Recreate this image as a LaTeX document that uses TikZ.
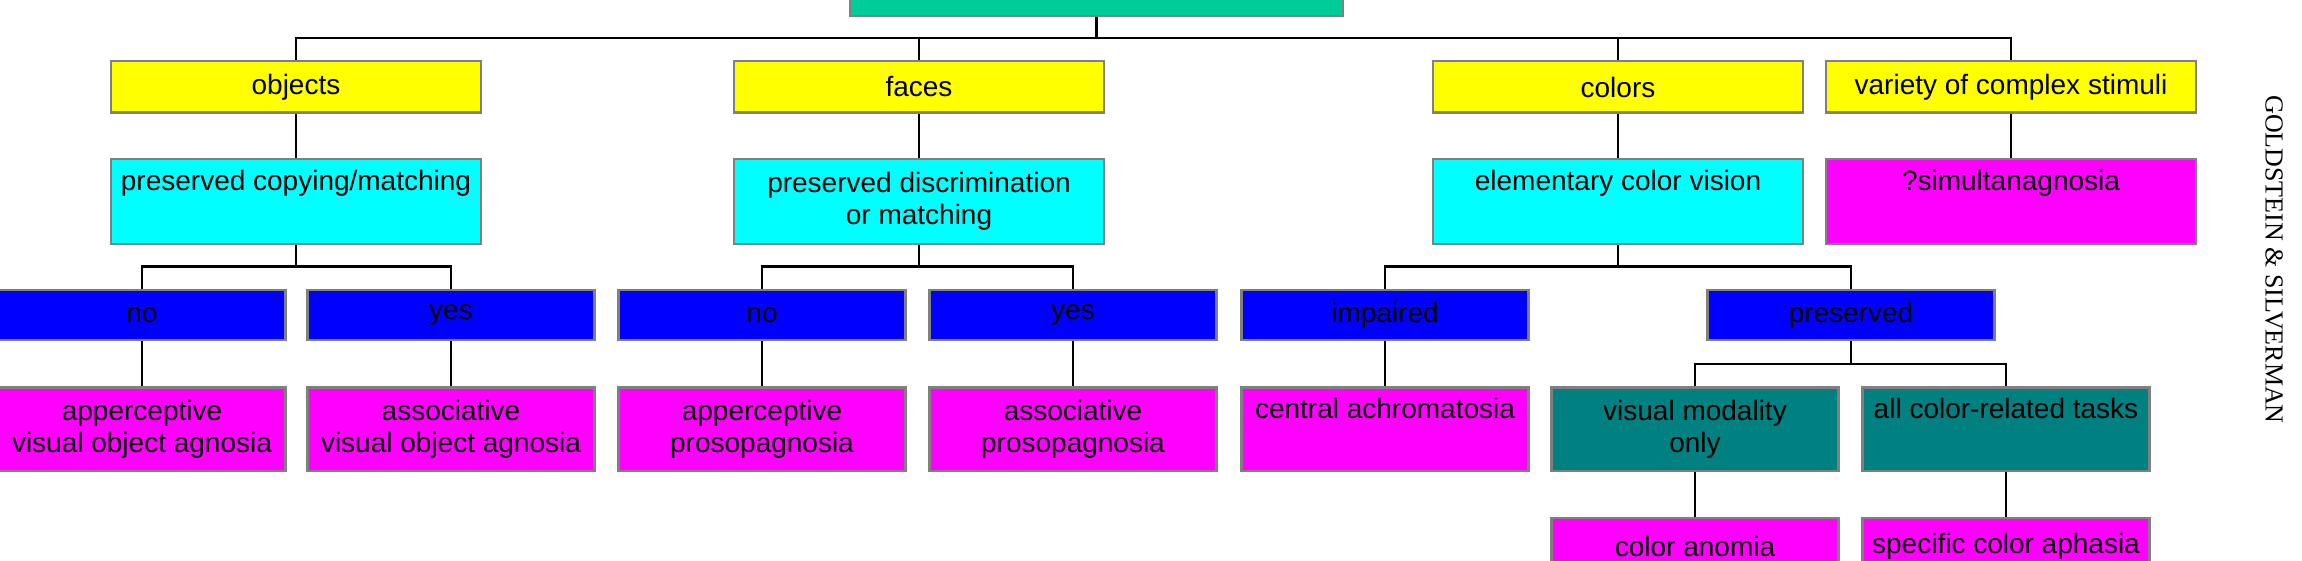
\documentclass[tikz,border=0pt]{standalone}
\usepackage{fontspec}
\setmainfont{Liberation Sans}
\newfontfamily\myserif{Liberation Serif}
\definecolor{rootc}{RGB}{0,204,153}
\definecolor{tealc}{RGB}{0,128,128}
\definecolor{bordc}{RGB}{128,128,128}
\definecolor{yelc}{RGB}{255,255,0}
\definecolor{cyac}{RGB}{0,255,255}
\definecolor{magc}{RGB}{255,0,255}
\definecolor{bluc}{RGB}{0,0,255}
\begin{document}
\begin{tikzpicture}[x=1pt,y=-1pt,
  box/.style={draw=bordc,line width=2.5pt,inner sep=0pt,align=center,
    font=\fontsize{28}{32}\selectfont},
  lvA/.style={box,fill=yelc,minimum width=370pt,minimum height=51.5pt},
  lvB/.style={box,minimum width=370pt,minimum height=85pt},
  lvC/.style={box,fill=bluc,minimum width=287pt,minimum height=50pt},
  lvD/.style={box,minimum width=287pt,minimum height=83.5pt},
  conn/.style={line width=2.8pt}]
\useasboundingbox (0,0) rectangle (2302,561);
\clip (0,0) rectangle (2302,561);
\coordinate (busA) at (0,38);
\coordinate (busB) at (0,266.5);
\coordinate (busC) at (0,364);
% root
\node[box,fill=rootc,minimum width=465pt,minimum height=62pt] (root) at (1096.5,-15) {\raisebox{-7pt}{Visually guided recognition impairments}};
% level 1
\node[lvA] (obj) at (296,87) {objects};
\node[lvA] (fac) at (919,87) {faces};
\node[lvA] (col) at (1618,87) {colors};
\node[lvA] (var) at (2011,87) {variety of complex stimuli};
% level 2
\node[lvB,fill=cyac] (cpy) at (296,201.5) {preserved copying/matching\\\strut};
\node[lvB,fill=cyac] (dis) at (919,201.5) {preserved discrimination\\or matching};
\node[lvB,fill=cyac] (ele) at (1618,201.5) {elementary color vision\\\strut};
\node[lvB,fill=magc] (sim) at (2011,201.5) {?simultanagnosia\\\strut};
% level 3
\node[lvC] (noA) at (142,315) {no};
\node[lvC] (yesA) at (451,315) {yes};
\node[lvC] (noB) at (762,315) {no};
\node[lvC] (yesB) at (1073,315) {yes};
\node[lvC] (imp) at (1385,315) {impaired};
\node[lvC] (pre) at (1851,315) {preserved};
% level 4
\node[lvD,fill=magc] (apA) at (142,429) {apperceptive\\visual object agnosia};
\node[lvD,fill=magc] (asA) at (451,429) {associative\\visual object agnosia};
\node[lvD,fill=magc] (apB) at (762,429) {apperceptive\\prosopagnosia};
\node[lvD,fill=magc] (asB) at (1073,429) {associative\\prosopagnosia};
\node[lvD,fill=magc] (ach) at (1385,429) {central achromatosia\\\strut};
\node[lvD,fill=tealc] (vis) at (1695,429) {visual modality\\only};
\node[lvD,fill=tealc] (all) at (2006,429) {all color-related tasks\\\strut};
% level 5
\node[box,fill=magc,minimum width=287pt,minimum height=56pt] (ano) at (1695,546) {color anomia};
\node[box,fill=magc,minimum width=287pt,minimum height=56pt] (aph) at (2006,546) {specific color aphasia};
% side label
\node[rotate=-90,font=\myserif\fontsize{26}{30}\selectfont] (side) at (2274,259.5) {GOLDSTEIN \& SILVERMAN};
% connectors
\draw[conn] (root.south) -- (root.south |- busA);
\draw[conn] (obj.north) |- (var.north |- busA) -- (var.north);
\draw[conn] (fac.north) -- (fac.north |- busA);
\draw[conn] (col.north) -- (col.north |- busA);
\draw[conn] (obj.south) -- (cpy.north);
\draw[conn] (fac.south) -- (dis.north);
\draw[conn] (col.south) -- (ele.north);
\draw[conn] (var.south) -- (sim.north);
\draw[conn] (cpy.south) -- (cpy.south |- busB);
\draw[conn] (noA.north) |- (yesA.north |- busB) -- (yesA.north);
\draw[conn] (dis.south) -- (dis.south |- busB);
\draw[conn] (noB.north) |- (yesB.north |- busB) -- (yesB.north);
\draw[conn] (ele.south) -- (ele.south |- busB);
\draw[conn] (imp.north) |- (pre.north |- busB) -- (pre.north);
\draw[conn] (noA.south) -- (apA.north);
\draw[conn] (yesA.south) -- (asA.north);
\draw[conn] (noB.south) -- (apB.north);
\draw[conn] (yesB.south) -- (asB.north);
\draw[conn] (imp.south) -- (ach.north);
\draw[conn] (pre.south) -- (pre.south |- busC);
\draw[conn] (vis.north) |- (all.north |- busC) -- (all.north);
\draw[conn] (vis.south) -- (ano.north);
\draw[conn] (all.south) -- (aph.north);
\end{tikzpicture}
\end{document}
